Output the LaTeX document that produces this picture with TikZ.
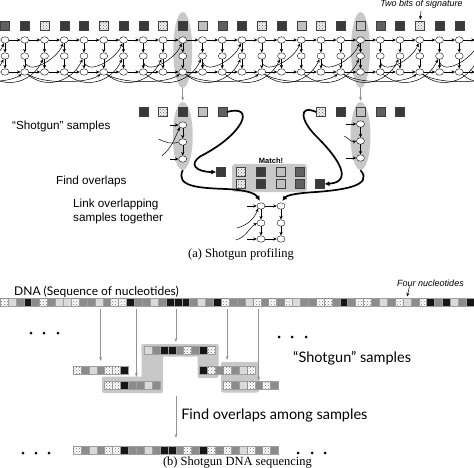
\documentclass[tikz,border=0pt]{standalone}
\usepackage{fontspec}
\setmainfont{Liberation Serif}
\setsansfont{Liberation Sans}
\newfontfamily\humfont{Lato}
\usepackage{tikz}
\usetikzlibrary{positioning,arrows.meta,calc,patterns,shapes.geometric}
\definecolor{sigdark}{RGB}{58,58,58}
\definecolor{sigmid}{RGB}{96,96,96}
\definecolor{siglight}{RGB}{192,192,192}
\definecolor{nucblack}{RGB}{22,22,22}
\definecolor{nucmid}{RGB}{140,140,140}
\definecolor{nuclight}{RGB}{218,218,218}
\definecolor{hilite}{RGB}{200,200,200}
\tikzset{
  sig/.style={draw=black!75, line width=0.4pt, minimum size=9pt, inner sep=0pt},
  sigD/.style={sig, fill=sigdark},
  sigM/.style={sig, fill=sigmid},
  sigL/.style={sig, fill=siglight},
  sigC/.style={sig, fill=gray!12, postaction={pattern=crosshatch dots, pattern color=black!60}},
  vtx/.style={ellipse, draw, fill=white, line width=0.4pt, minimum width=8pt,
              minimum height=6.5pt, inner sep=0pt},
  hl/.style={ellipse, fill=hilite, inner sep=0pt},
  link/.style={-{Stealth[length=3.6pt,width=3.2pt]}, line width=0.5pt},
  fat/.style={-{Latex[length=5pt,width=5pt]}, line width=1.7pt},
  garrow/.style={-{Stealth[length=4pt,width=3pt]}, draw=gray!85, line width=0.6pt},
  lbl/.style={font=\sffamily\fontsize{11.7}{14}\selectfont, inner sep=0pt, align=left},
  note/.style={font=\sffamily\itshape\fontsize{9}{10}\selectfont, inner sep=0pt},
  humlbl/.style={font=\humfont\fontsize{14.5}{16}\selectfont, inner sep=0pt},
  captext/.style={font=\fontsize{12.5}{14}\selectfont, inner sep=0pt}
}
\tikzset{
  nuc/.style={draw=gray!75, line width=0.35pt, minimum size=7.9pt, inner sep=0pt},
  nucB/.style={nuc, fill=nucblack},
  nucM/.style={nuc, fill=nucmid},
  nucL/.style={nuc, fill=nuclight},
  nucC/.style={nuc, fill=white, postaction={pattern=crosshatch dots, pattern color=black!55}}
}
% one row of nucleotides: name, left x, y, list
\newcommand\nucrow[4]{%
  \foreach \c [count=\i from 0] in {#4} {\node[nuc\c] (#1-\i) at ({#2+3.95+7.9*\i},#3) {};}}

\begin{document}
\begin{tikzpicture}[x=1pt,y=-1pt]
  \useasboundingbox (0,0) rectangle (474,468);
  \clip (0,0) rectangle (474,468);

  % (a) signature row and graph
  \node[hl, minimum width=19pt, minimum height=76pt] (h1) at (182.75,50) {};
  \node[hl, minimum width=19pt, minimum height=76pt] (h2) at (360.5,50) {};
  \foreach \c [count=\k from 0] in {M,D,C,D,D,C,D,D,C,D,L,M,D,C,D,L,C,D,L,M,D,C,D,D}
    \node[sig\c] (s\k) at ({5+19.75*\k},26) {};
  \foreach \k in {-3,...,26} {
    \node[vtx] (t\k) at ({5+19.75*\k},40) {};
    \node[vtx] (m\k) at ({5+19.75*\k},56) {};
    \node[vtx] (b\k) at ({5+19.75*\k},72) {};
  }
  \foreach \k in {-3,...,25} {
    \pgfmathtruncatemacro\n{\k+1}
    \draw[link] (t\k) -- (t\n);
    \draw[link] (b\k) -- (b\n);
  }
  \foreach \k in {-3,...,26} {
    \draw[link] (t\k) -- (m\k);
    \draw[link] (m\k) -- (b\k);
  }
  \foreach \k in {-3,-1,...,23} {
    \pgfmathtruncatemacro\n{\k+3}
    \draw[link] (b\k) to[out=-40,in=-115,looseness=1.1] (m\n);
  }
  \foreach \k in {-2,1,...,24} {
    \pgfmathtruncatemacro\n{\k+2}
    \draw[link] (m\k) to[out=-90,in=-110,looseness=1.1] (t\n);
  }
  \foreach \k in {-3,1,...,21} {
    \pgfmathtruncatemacro\n{\k+4}
    \draw[link] (b\k) to[out=-35,in=-145,looseness=0.6] (b\n);
  }
  \node[note, anchor=base] (sigl) at (421.5,7) {Two bits of signature};
  \draw[link, shorten <=2pt, shorten >=2pt] (sigl) -- (s21);

  % (a) samples
  \node[hl, minimum width=20pt, minimum height=68pt] (lh) at (182.75,136) {};
  \node[hl, minimum width=20pt, minimum height=68pt] (rh) at (360.5,136) {};
  \draw[garrow, shorten >=1pt] (h1) -- (lh);
  \draw[garrow, shorten >=1pt] (h2) -- (rh);
  \foreach \c [count=\k from 7] in {D,C,D,L,M}
    \node[sig\c] (ls\k) at ({5+19.75*\k},112) {};
  \foreach \c [count=\k from 16] in {C,D,L,M,D}
    \node[sig\c] (rs\k) at ({5+19.75*\k},112) {};
  \node[vtx] (la) at (182.75,125) {};
  \node[vtx] (lb) at (182.75,142) {};
  \node[vtx] (lc) at (182.75,159) {};
  \draw[link] (la) -- (lb);
  \draw[link] (lb) -- (lc);
  \draw[link] ([xshift=-9pt]la.west) -- (la.west);
  \draw[link] ([xshift=-9pt]lc.west) -- (lc.west);
  \draw[line width=0.5pt] ([shift={(-20,-3)}]lb.west) to[out=-25,in=200] (lb.west);
  \draw[link] ([shift={(-21,31)}]la.center) to[out=40,in=-115] (la.south west);
  \node[vtx] (ra) at (360.5,124) {};
  \node[vtx] (rb) at (360.5,141) {};
  \node[vtx] (rc) at (360.5,158) {};
  \draw[link] (ra) -- (rb);
  \draw[link] (rb) -- (rc);
  \draw[link] ([xshift=-10pt]ra.west) -- (ra.west);
  \draw[link] ([xshift=-10pt]rc.west) -- (rc.west);
  \draw[link] ([shift={(-12,-5)}]rb.west) to[out=-30,in=195] (rb.west);

  % (a) find overlaps
  \node[fill=hilite, rounded corners=3pt, minimum width=75pt, minimum height=28pt,
        inner sep=0pt] (mbox) at (269.5,178) {};
  \node[font=\sffamily\bfseries\fontsize{7.5}{8}\selectfont, inner sep=0pt] (mtxt) at (271,161) {Match!};
  \foreach \c [count=\j from 0] in {D,C,D,L,M}
    \node[sig\c] (mu\j) at ({221+19.75*\j},172) {};
  \foreach \c [count=\j from 1] in {C,D,L,M,D}
    \node[sig\c] (md\j) at ({221+19.75*\j},184) {};
  \draw[fat] (ls11.east) .. controls (256,104) and (244,134) .. (201,156)
             .. controls (188,164) and (196,172) .. (mu0.west);
  \draw[fat] (rs16.west) .. controls (298,104) and (300,121) .. (318,138)
             .. controls (338,158) and (354,182) .. (md5.east);

  % (a) linked graph
  \node[vtx] (p1) at (261,206) {};
  \node[vtx] (p2) at (281,206) {};
  \node[vtx] (p3) at (261,223) {};
  \node[vtx] (p4) at (281,223) {};
  \node[vtx] (p5) at (261,239) {};
  \node[vtx] (p6) at (281,239) {};
  \draw[link] (p1) -- (p2);
  \draw[link] (p1) -- (p3);
  \draw[link] (p3) -- (p5);
  \draw[link] (p2) -- (p4);
  \draw[link] (p4) -- (p6);
  \draw[link] (p5) -- (p6);
  \draw[link] ([xshift=-10pt]p1.west) -- (p1.west);
  \draw[link] ([xshift=-10pt]p5.west) -- (p5.west);
  \draw[link] ([shift={(-20,5)}]p3.west) to[out=15,in=-110] (p1.south west);
  \draw[link] ([shift={(-21,1)}]p5.west) to[out=15,in=215] (p3.west);
  \draw[fat, shorten >=2pt] (lh.south) .. controls (175,187) and (200,188) .. (226,189)
             .. controls (246,190) and (255,193) .. (p1.north);
  \draw[fat, shorten >=2pt] (rh.south) .. controls (374,186) and (342,190) .. (316,192)
             .. controls (298,193) and (287,195) .. (p2.north);

  \node[lbl, anchor=base west] (shl) at (12,129.5) {“Shotgun" samples};
  \node[lbl, anchor=base west] (fol) at (56,184.5) {Find overlaps};
  \node[lbl, anchor=base west] (lol) at (73,221.5) {Link overlapping\\[-0.5pt]samples together};
  \node[captext, anchor=base] (capa) at (241,257) {(a) Shotgun profiling};

  % (b) DNA sequencing
  \node[humlbl, font=\humfont\fontsize{12}{14}\selectfont, anchor=base west] (dnal) at (14,295.5)
    {DNA (Sequence of nucleotides)};
  \nucrow{d}{0}{302}{C,L,M,B,M,C,M,L,L,C,M,M,L,M,C,C,B,M,M,L,M,B,B,B,M,L,M,B,C,M,
                     M,L,C,M,C,M,C,L,M,M,C,C,M,B,M,C,C,M,L,M,C,L,M,C,B,M,B,L,M,B}
  \node[note, anchor=base] (fourl) at (430.5,286) {Four nucleotides};
  \draw[link, shorten >=1.5pt] ([xshift=-21pt]fourl.south) -- (d-51.north);

  \fill[hilite, rounded corners=2pt] (102,376.5) rectangle (162.5,393);
  \fill[hilite, rounded corners=2pt] (141.5,344) rectangle (163,393);
  \fill[hilite, rounded corners=2pt] (141.5,344) rectangle (218.5,356.5);
  \fill[hilite, rounded corners=2pt] (197.5,344) rectangle (218.5,378);
  \fill[hilite, rounded corners=2pt] (221,362) rectangle (259,392.5);
  \nucrow{q1}{73}{370}{C,M,L,M,C,C,B}
  \nucrow{q2}{104.6}{385}{C,C,B,M,M,L,M}
  \nucrow{q3}{144.1}{350}{L,M,B,B,M,C,M,B,C}
  \nucrow{q4}{199.4}{370}{B,C,M,C,M,L,C}
  \nucrow{q5}{223.1}{385}{C,M,L,C,M,C,M}
  \nucrow{f}{73}{450}{C,M,L,M,C,C,B,M,M,L,M,B,B,M,C,M,B,C,M,C,M,L,C,M,C,M}

  \draw[garrow, shorten <=3pt, shorten >=5pt] (q1-3.north |- d-0.south) -- (q1-3.north);
  \draw[garrow, shorten <=3pt, shorten >=4pt] (q2-3.north east |- d-0.south) -- (q2-3.north east);
  \draw[garrow, shorten <=3pt, shorten >=4pt] (q3-3.north east |- d-0.south) -- (q3-3.north east);
  \draw[garrow, shorten <=3pt, shorten >=6pt] (q4-3.north |- d-0.south) -- (q4-3.north);
  \draw[garrow, shorten <=3pt, shorten >=0pt] (q5-4.north |- d-0.south) -- (q5-4.north);
  \coordinate (ov) at (176,396);
  \draw[garrow, shorten >=8pt] (ov) -- (ov |- f-0.north)
    node[pos=0.4, right=5pt, humlbl] (ovl) {Find overlaps among samples};
  \node[humlbl, anchor=base west] (shb) at (293,362) {“Shotgun” samples};

  \foreach \x in {31,44,58} \fill (\x,333) circle (1.5);
  \foreach \x in {279,292,306} \fill (\x,337) circle (1.5);
  \foreach \x in {23,36,49} \fill (\x,453) circle (1.5);
  \foreach \x in {298,312,325} \fill (\x,453) circle (1.5);
  \node[captext, anchor=base] (capb) at (237.5,465.5) {(b) Shotgun DNA sequencing};
\end{tikzpicture}
\end{document}
